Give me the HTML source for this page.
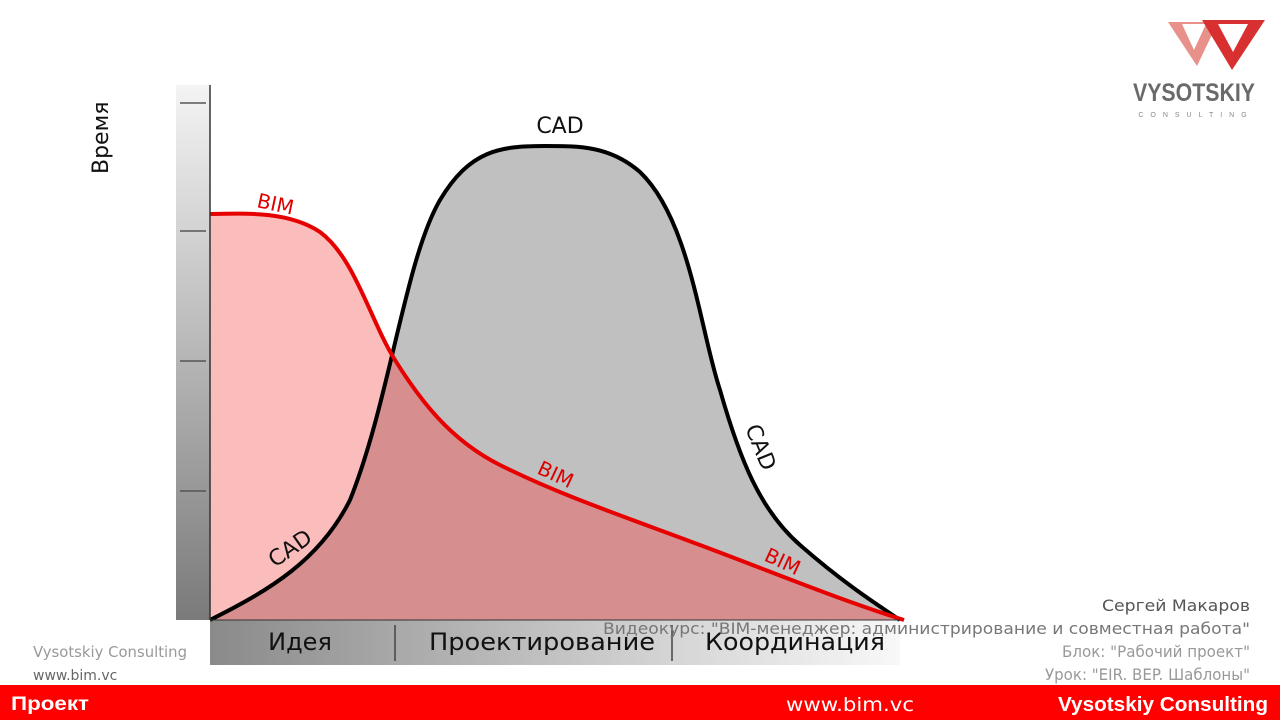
<!DOCTYPE html>
<html><head><meta charset="utf-8"><style>
html,body{margin:0;padding:0;width:1280px;height:720px;overflow:hidden;background:#fff;font-family:"Liberation Sans","DejaVu Sans",sans-serif}
</style></head><body>
<svg width="1280" height="720" viewBox="0 0 1280 720" xmlns="http://www.w3.org/2000/svg" style="position:absolute;left:0;top:0">
<defs>
<linearGradient id="yg" x1="0" y1="0" x2="0" y2="1"><stop offset="0" stop-color="#f4f4f4"/><stop offset="1" stop-color="#7a7a7a"/></linearGradient>
<linearGradient id="xg" x1="0" y1="0" x2="1" y2="0"><stop offset="0" stop-color="#8a8a8a"/><stop offset="0.55" stop-color="#c8c8c8"/><stop offset="1" stop-color="#f8f8f8"/></linearGradient>
<clipPath id="cadclip"><path d="M210,620 C270,590 320,560 350,500 C390,400 405,260 440,200 C470,150 500,146 545,146 C580,146 610,146 640,172 C690,220 700,330 720,390 C740,460 760,510 800,545 C840,580 870,600 900,620 Z"/></clipPath>
</defs>
<rect x="176" y="85" width="34" height="535" fill="url(#yg)"/>
<g stroke="#555" stroke-width="1.5"><line x1="180" y1="103" x2="206" y2="103"/><line x1="180" y1="231" x2="206" y2="231"/><line x1="180" y1="361" x2="206" y2="361"/><line x1="180" y1="491" x2="206" y2="491"/></g>
<rect x="210" y="620" width="690" height="45" fill="url(#xg)"/>
<line x1="395" y1="625" x2="395" y2="661" stroke="#444" stroke-width="1.5"/>
<line x1="672" y1="625" x2="672" y2="661" stroke="#444" stroke-width="1.5"/>
<path d="M210,214 C250,213 290,212 320,232 C355,258 370,320 395,360 C420,400 450,440 500,465 C560,495 620,515 700,545 C780,575 840,600 900,620 L210,620 Z" fill="#fbbcbc"/>
<path d="M210,620 C270,590 320,560 350,500 C390,400 405,260 440,200 C470,150 500,146 545,146 C580,146 610,146 640,172 C690,220 700,330 720,390 C740,460 760,510 800,545 C840,580 870,600 900,620 Z" fill="#c0c0c0"/>
<path d="M210,214 C250,213 290,212 320,232 C355,258 370,320 395,360 C420,400 450,440 500,465 C560,495 620,515 700,545 C780,575 840,600 900,620 L210,620 Z" fill="#d68e8e" clip-path="url(#cadclip)"/>
<path d="M210,620 C270,590 320,560 350,500 C390,400 405,260 440,200 C470,150 500,146 545,146 C580,146 610,146 640,172 C690,220 700,330 720,390 C740,460 760,510 800,545 C840,580 870,600 900,620" fill="none" stroke="#000" stroke-width="4"/>
<path d="M210,214 C250,213 290,212 320,232 C355,258 370,320 395,360 C420,400 450,440 500,465 C560,495 620,515 700,545 C780,575 840,600 904,620" fill="none" stroke="#e60000" stroke-width="4"/>
<line x1="210" y1="85" x2="210" y2="620" stroke="#333" stroke-width="1.5"/>
<line x1="210" y1="620" x2="900" y2="620" stroke="#333" stroke-width="1"/>
<g font-family="DejaVu Sans,sans-serif" font-size="22">
<text x="560" y="133" text-anchor="middle" fill="#111">CAD</text>
<text x="256" y="207" fill="#d00" font-size="20" transform="rotate(12 256 207)">BIM</text>
<text x="536" y="473" fill="#d00" font-size="20" transform="rotate(25 536 473)">BIM</text>
<text x="763" y="560" fill="#d00" font-size="20" transform="rotate(25 763 560)">BIM</text>
<text x="275" y="568" fill="#111" transform="rotate(-35 275 568)">CAD</text>
<text x="745" y="428" fill="#111" transform="rotate(68 745 428)">CAD</text>
<text x="108" y="174" fill="#111" transform="rotate(-90 108 174)">Время</text>
<text x="300" y="650" text-anchor="middle" fill="#111" font-size="24">Идея</text>
<text x="542" y="650" text-anchor="middle" fill="#111" font-size="24" textLength="226" lengthAdjust="spacingAndGlyphs">Проектирование</text>
<text x="795" y="650" text-anchor="middle" fill="#111" font-size="24" textLength="180" lengthAdjust="spacingAndGlyphs">Координация</text>
</g>
<g font-family="DejaVu Sans,sans-serif" font-size="16" fill="#888" text-anchor="end">
<text x="1250" y="611" fill="#555" textLength="148" lengthAdjust="spacingAndGlyphs">Сергей Макаров</text>
<text x="1250" y="634" fill="#777" textLength="647" lengthAdjust="spacingAndGlyphs">Видеокурс: "BIM-менеджер: администрирование и совместная работа"</text>
<text x="1250" y="657" fill="#999" textLength="188" lengthAdjust="spacingAndGlyphs">Блок: "Рабочий проект"</text>
<text x="1250" y="680" fill="#999" textLength="205" lengthAdjust="spacingAndGlyphs">Урок: "EIR. BEP. Шаблоны"</text>
</g>
<text x="33" y="657" font-family="DejaVu Sans,sans-serif" font-size="15" fill="#999" textLength="154" lengthAdjust="spacingAndGlyphs">Vysotskiy Consulting</text>
<text x="33" y="680" font-family="DejaVu Sans,sans-serif" font-size="14" fill="#666">www.bim.vc</text>
<rect x="0" y="685" width="1280" height="35" fill="#ff0000"/>
<text x="11" y="710" font-size="19" font-weight="bold" fill="#fff" textLength="78" lengthAdjust="spacingAndGlyphs">Проект</text>
<text x="850" y="711" text-anchor="middle" font-family="DejaVu Sans,sans-serif" font-size="19" fill="#fff" textLength="128" lengthAdjust="spacingAndGlyphs">www.bim.vc</text>
<text x="1268" y="711" text-anchor="end" font-size="20" font-weight="bold" fill="#fff" textLength="210" lengthAdjust="spacingAndGlyphs">Vysotskiy Consulting</text>
<g>
<polygon points="1168,22 1218,22 1197,66" fill="#e8908a"/>
<polygon points="1182,24 1206,24 1194,50" fill="#fff"/>
<polygon points="1202,20 1265,20 1232,70" fill="#d83030"/>
<polygon points="1218,24 1248,24 1233,52" fill="#fff"/>
<text x="1194" y="101" text-anchor="middle" font-size="25" font-weight="bold" fill="#6a6a6a" textLength="122" lengthAdjust="spacingAndGlyphs">VYSOTSKIY</text>
<text x="1196" y="117" text-anchor="middle" font-size="7" fill="#888" letter-spacing="7">CONSULTING</text>
</g>
</svg>
</body></html>
